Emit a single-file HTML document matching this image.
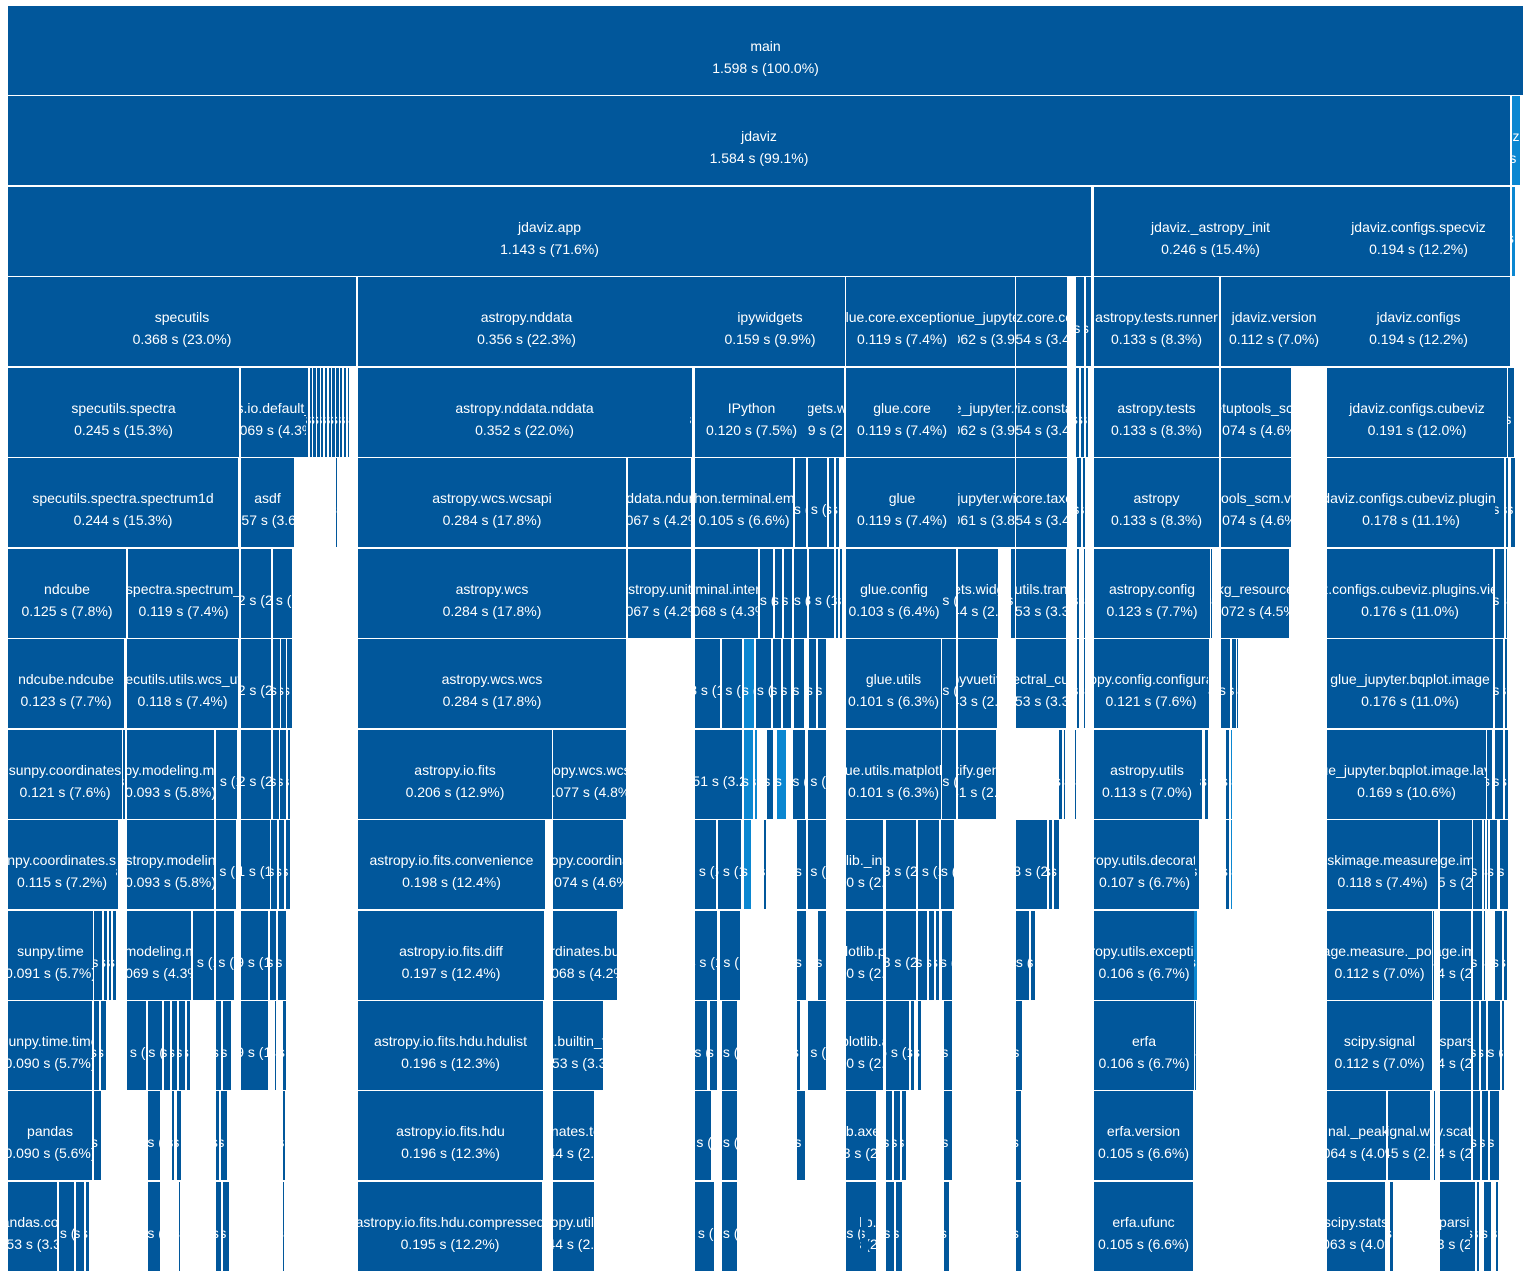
<!DOCTYPE html>
<html><head><meta charset="utf-8">
<style>
html,body{margin:0;padding:0;background:#fff;width:1536px;height:1273px;overflow:hidden}
#chart{position:relative;width:1536px;height:1273px}
.blk{position:absolute;box-sizing:border-box;padding-top:12px;background:#01579b;color:#fff;overflow:hidden;display:flex;flex-direction:column;justify-content:center;align-items:center;font-family:"Liberation Sans","DejaVu Sans",sans-serif;font-size:14px;line-height:22px;white-space:nowrap;cursor:pointer}
.blk.light{background:#0b87d1}
.blk span{display:block;text-align:center}
</style></head><body>
<div id="chart"></div>
<script>
const names = ["main","jdaviz","jdaviz.utils","jdaviz.app","jdaviz._astropy_init","jdaviz.configs.specviz",
"specutils","astropy.nddata","ipywidgets","glue.core.exceptions","glue_jupyter","jdaviz.core.config","astropy.tests.runner","jdaviz.version","jdaviz.configs",
"specutils.spectra","specutils.io.default_loaders","astropy.nddata.nddata","IPython","ipywidgets.widgets","glue.core","glue_jupyter.app","jdaviz.constants","astropy.tests","setuptools_scm","jdaviz.configs.cubeviz",
"specutils.spectra.spectrum1d","asdf","astropy.wcs.wcsapi","astropy.nddata.nduncertainty","IPython.terminal.embed","glue","glue_jupyter.widgets","jdaviz.core.taxonomy","astropy","setuptools_scm.version","jdaviz.configs.cubeviz.plugins",
"ndcube","specutils.spectra.spectrum_collection","astropy.wcs","astropy.units","IPython.terminal.interactiveshell","glue.config","ipywidgets.widgets.sub","specutils.translate","astropy.config","pkg_resources","jdaviz.configs.cubeviz.plugins.viewers",
"ndcube.ndcube","specutils.utils.wcs_utils","astropy.wcs.wcs","glue.utils","ipyvuetify","spectral_cube","astropy.config.configuration","glue_jupyter.bqplot.image",
"sunpy.coordinates","astropy.modeling.models","astropy.io.fits","astropy.wcs.wcsapi","glue.utils.matplotlib","ipyvuetify.generated","astropy.utils","glue_jupyter.bqplot.image.layer",
"sunpy.coordinates.sun","astropy.modeling","astropy.io.fits.convenience","astropy.coordinates","matplotlib._internal.a","astropy.utils.decorators","skimage.measure","skimage.imaging",
"sunpy.time","astropy.modeling.modeling","astropy.io.fits.diff","astropy.coordinates.builtin_frames","matplotlib.pyplot","astropy.utils.exceptions","skimage.measure._polygon","skimage.images",
"sunpy.time.time","astropy.io.fits.hdu.hdulist","coordinates.builtin_frames.ates","matplotlib.axes","erfa","scipy.signal","scipy.sparsity.bp",
"pandas","astropy.io.fits.hdu","coordinates.tes.bes","matplotlib.axes._axes","erfa.version","scipy.signal._peak_finding","scipy.signal.windows","scipy.scatter_t",
"pandas.core","astropy.io.fits.hdu.compressed","astropy.utils.py","matplotlib.lib.im","erfa.ufunc","scipy.stats","scipy.sparsity.scan"];
const rows = [0,1,1,2,2,2,
3,3,3,3,3,3,3,3,3,
4,4,4,4,4,4,4,4,4,4,4,
5,5,5,5,5,5,5,5,5,5,5,
6,6,6,6,6,6,6,6,6,6,6,
7,7,7,7,7,7,7,7,
8,8,8,8,8,8,8,8,
9,9,9,9,9,9,9,9,
10,10,10,10,10,10,10,10,
11,11,11,11,11,11,11,
12,12,12,12,12,12,12,12,
13,13,13,13,13,13,13];
const startsMs = [0,0,1585,0,1145,1390,
0,369,724,883,1001,1063,1145,1279,1390,
0,246,369,724,843,883,1001,1063,1145,1279,1390,
0,246,369,654,724,883,1001,1063,1145,1279,1390,
0,126,369,654,724,883,1001,1063,1145,1279,1390,
0,125,369,883,1001,1063,1145,1390,
0,125,369,575,883,1001,1145,1390,
0,125,369,575,883,1145,1390,1509,
0,125,369,575,883,1145,1390,1509,
0,369,575,883,1145,1390,1509,
0,369,575,883,1145,1390,1455,1509,
0,369,575,883,1145,1390,1509];
const durS = [1.598,1.584,0.010,1.143,0.246,0.194,
0.368,0.356,0.159,0.119,0.062,0.054,0.133,0.112,0.194,
0.245,0.069,0.352,0.120,0.039,0.119,0.062,0.054,0.133,0.074,0.191,
0.244,0.057,0.284,0.067,0.105,0.119,0.061,0.054,0.133,0.074,0.178,
0.125,0.119,0.284,0.067,0.068,0.103,0.044,0.053,0.123,0.072,0.176,
0.123,0.118,0.284,0.101,0.043,0.053,0.121,0.176,
0.121,0.093,0.206,0.077,0.101,0.041,0.113,0.169,
0.115,0.093,0.198,0.074,0.040,0.107,0.118,0.035,
0.091,0.069,0.197,0.068,0.040,0.106,0.112,0.034,
0.090,0.196,0.053,0.040,0.106,0.112,0.034,
0.090,0.196,0.044,0.033,0.105,0.064,0.045,0.034,
0.053,0.195,0.044,0.033,0.105,0.063,0.033];
const pcts = [100.0,99.1,0.6,71.6,15.4,12.2,
23.0,22.3,9.9,7.4,3.9,3.4,8.3,7.0,12.2,
15.3,4.3,22.0,7.5,2.4,7.4,3.9,3.4,8.3,4.6,12.0,
15.3,3.6,17.8,4.2,6.6,7.4,3.8,3.4,8.3,4.6,11.1,
7.8,7.4,17.8,4.2,4.3,6.4,2.8,3.3,7.7,4.5,11.0,
7.7,7.4,17.8,6.3,2.7,3.3,7.6,11.0,
7.6,5.8,12.9,4.8,6.3,2.6,7.0,10.6,
7.2,5.8,12.4,4.6,2.5,6.7,7.4,2.2,
5.7,4.3,12.4,4.2,2.5,6.7,7.0,2.1,
5.7,12.3,3.3,2.5,6.7,7.0,2.1,
5.6,12.3,2.8,2.1,6.6,4.0,2.8,2.1,
3.3,12.2,2.8,2.1,6.6,4.0,2.1];
const lightIdx = [2];

// small frames per row: [startMs, endMs, light]
const sliversRow2 = [[1585,1590,1]];
const sliversRow3 = [[1126,1135,0],[1136,1143,0]];
const sliversRow4 = [[314,317.5,0],[318,321.5,0],[322,325.5,0],[326,329.5,0],[330,333.5,0],[334,337.5,0],[338,341.5,0],[342,345.5,0],[346,349.5,0],[350,353.5,0],[354,357.5,0],[358,361,0],[719,722,0],[1126,1130,0],[1131,1135,0],[1136,1139,0],[1581,1588,0]];
const sliversRow5 = [[346,348,0],[830,842,0],[843,864,0],[865,872,0],[873,877,0],[1127,1132,0],[1133,1136,0],[1567,1578,0],[1579,1582,0],[1584,1590,0]];
const sliversRow6 = [[246,278,0],[279,300,0],[793,807,0],[808,817,0],[818,827,0],[828,843,0],[844,872,0],[873,876,0],[877,880,0],[985,1000,0],[1057,1062,0],[1127,1130,0],[1134,1136,0],[1268,1270,0],[1567,1578,0],[1579,1581,0]];
const sliversRow7 = [[246,278,0],[279,288,0],[288,294,0],[294,300,0],[724,752,0],[753,775,0],[776,787,1],[788,805,0],[806,816,0],[817,826,0],[828,840,0],[844,853,0],[854,863,0],[985,1000,0],[1127,1130,0],[1134,1136,0],[1265,1266,0],[1279,1289,0],[1290,1295,0],[1296,1297,0],[1567,1577,0],[1578,1581,0]];
const sliversRow8 = [[121,124,0],[219,242,0],[246,278,0],[279,287,0],[287,294,0],[295,298,0],[724,775,0],[776,786,1],[787,791,1],[800,807,0],[811,821,1],[827,841,0],[843,863,0],[985,1000,0],[1108,1112,0],[1113,1115,0],[1125,1126,0],[1257,1260,0],[1262,1266,0],[1284,1288,0],[1289,1291,1],[1559,1565,0],[1567,1577,0],[1578,1582,0]];
const sliversRow9 = [[114,117,0],[219,241,0],[246,277,0],[277,285,0],[286,292,0],[293,298,0],[724,747,0],[748,774,0],[776,784,1],[797,800,0],[832,842,0],[843,863,0],[925,958,0],[959,982,0],[983,998,0],[1063,1096,0],[1097,1102,0],[1103,1109,0],[1251,1256,0],[1284,1288,0],[1289,1291,1],[1544,1555,0],[1556,1558,0],[1559,1561,0],[1562,1571,0],[1573,1582,0]];
const sliversRow10 = [[90.6,100,0],[101,105,0],[106,110,0],[111,115,0],[195,218,0],[219,239,0],[246,275,0],[276,284,0],[285,294,0],[724,748,0],[750,773,0],[832,842,0],[854,863,0],[925,958,0],[959,970,0],[971,977,0],[978,982,0],[985,996,0],[1063,1077,0],[1078,1084,0],[1250,1254,1],[1502,1504,0],[1544,1555,0],[1556,1558,0],[1567,1576,0],[1577,1581,0]];
const sliversRow11 = [[90.6,97,0],[98,104,0],[125,147,0],[148,163,0],[164,172,0],[173,179,0],[180,188,0],[189,193,0],[219,226,0],[227,236,0],[246,275,0],[281,284,0],[290,294,0],[724,738,0],[740,748,0],[753,769,0],[832,836,0],[843,863,0],[925,951,0],[952,956,0],[959,963,0],[987,996,0],[1063,1070,0],[1251,1252,0],[1544,1552,0],[1553,1559,0],[1560,1574,0],[1575,1578,0]];
const sliversRow12 = [[90.6,99,0],[148,161,0],[173,176,0],[178,183,0],[219,223,0],[224,232,0],[290,293,0],[724,742,0],[753,769,0],[832,841,0],[925,933,0],[934,941,0],[942,948,0],[987,996,0],[1063,1069,0],[1503,1505,0],[1544,1553,0],[1554,1561,0],[1562,1573,0]];
const sliversRow13 = [[54,71,0],[72,81,0],[82,86,0],[148,161,0],[180,182,0],[219,226,0],[227,234,0],[290,292,0],[724,745,0],[753,769,0],[883,899,0],[900,908,0],[925,935,0],[936,943,0],[987,993,0],[1063,1069,0],[1457,1461,0],[1541,1547,0],[1548,1552,0],[1556,1564,0],[1569,1572,0]];

const X0 = 8, X1 = 1524, TOTAL = 1598;
const TOP = 6, ROWH = 90.45, BLKH = 89;
function xScale(ms){ return X0 + ms / TOTAL * (X1 - X0); }
function yScale(r){ return TOP + r * ROWH; }

const chart = document.getElementById('chart');
function addBlock(row, sMs, eMs, name, timeTxt, light){
  const x0 = Math.round(xScale(sMs)), x1 = Math.round(xScale(eMs));
  const d = document.createElement('div');
  d.className = 'blk' + (light ? ' light' : '');
  d.style.left = x0 + 'px';
  d.style.width = Math.max(1, x1 - x0 - 1) + 'px';
  d.style.top = Math.round(yScale(row)) + 'px';
  d.style.height = BLKH + 'px';
  
  
  const a = document.createElement('span'); a.textContent = name;
  
  
  const b = document.createElement('span'); b.textContent = timeTxt;
  
  
  d.appendChild(a); d.appendChild(b);
  chart.appendChild(d);
}
for (let i = 0; i < names.length; i++) {
  const s = startsMs[i], e = s + durS[i] * 1000;
  addBlock(rows[i], s, e, names[i], durS[i].toFixed(3) + ' s (' + pcts[i].toFixed(1) + '%)', lightIdx.indexOf(i) >= 0);
}
const sliverSets = [[2,sliversRow2],[3,sliversRow3],[4,sliversRow4],[5,sliversRow5],[6,sliversRow6],[7,sliversRow7],[8,sliversRow8],[9,sliversRow9],[10,sliversRow10],[11,sliversRow11],[12,sliversRow12],[13,sliversRow13]];
sliverSets.forEach(function(set){
  set[1].forEach(function(sv){
    const dur = (sv[1] - sv[0]) / 1000;
    addBlock(set[0], sv[0], sv[1], '', dur.toFixed(3) + ' s (' + (dur / 1.598 * 100).toFixed(1) + '%)', sv[2] === 1);
  });
});
</script>
</body></html>
